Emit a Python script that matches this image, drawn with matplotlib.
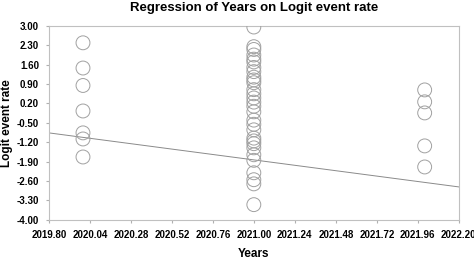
import matplotlib
matplotlib.use('Agg')
import matplotlib.pyplot as plt
import numpy as np

plt.rcParams['font.family'] = ['Liberation Sans', 'DejaVu Sans']

# years and logit event rates
years_2020 = [2020.00] * 7
logit_2020 = [2.39, 1.48, 0.85, -0.07, -0.86, -1.08, -1.73]

years_2021 = [2021.00] * 30
logit_2021 = [2.96, 2.25, 2.15, 1.95, 1.80, 1.70, 1.50, 1.35, 1.15, 1.05,
              0.95, 0.70, 0.55, 0.40, 0.25, 0.10, -0.10, -0.40, -0.55, -0.75,
              -1.05, -1.15, -1.25, -1.40, -1.65, -1.85, -2.30, -2.55, -2.70, -3.45]

years_2022 = [2022.00] * 5
logit_2022 = [0.69, 0.26, -0.14, -1.33, -2.09]

# regression line ends
line_x = [2019.80, 2022.20]
line_y = [-0.86, -2.81]

xticks = np.round(np.arange(2019.80, 2022.21, 0.24), 2)
yticks = np.round(np.arange(-4.00, 3.01, 0.70), 2)

fig = plt.figure(figsize=(4.74, 2.59), dpi=100)
ax = fig.add_axes([0.103, 0.151, 0.865, 0.749])

x = years_2020 + years_2021 + years_2022
y = logit_2020 + logit_2021 + logit_2022
ax.scatter(x, y, s=100, facecolors='none', edgecolors='#a0a0a0', linewidths=0.7, zorder=3)
ax.plot(line_x, line_y, color='#8a8a8a', linewidth=0.7, zorder=2)

ax.set_xlim(2019.80, 2022.20)
ax.set_ylim(-4.00, 3.00)
ax.set_xticks(xticks)
ax.set_xticklabels(['%.2f' % v for v in xticks])
ax.set_yticks(yticks)
ax.set_yticklabels(['%.2f' % v for v in yticks])
ax.tick_params(labelsize=7, length=2, color='#b0b0b0', pad=5)
for lab in ax.get_xticklabels() + ax.get_yticklabels():
    lab.set_fontweight('bold')
for sp in ax.spines.values():
    sp.set_color('#c0c0c0')
    sp.set_linewidth(0.8)

ax.set_title('Regression of Years on Logit event rate', fontsize=9.5, fontweight='bold', pad=11)
ax.set_xlabel('Years', fontsize=8.5, fontweight='bold', labelpad=6)
ax.set_ylabel('Logit event rate', fontsize=8.5, fontweight='bold', labelpad=3)

fig.savefig('out.png', dpi=100)
